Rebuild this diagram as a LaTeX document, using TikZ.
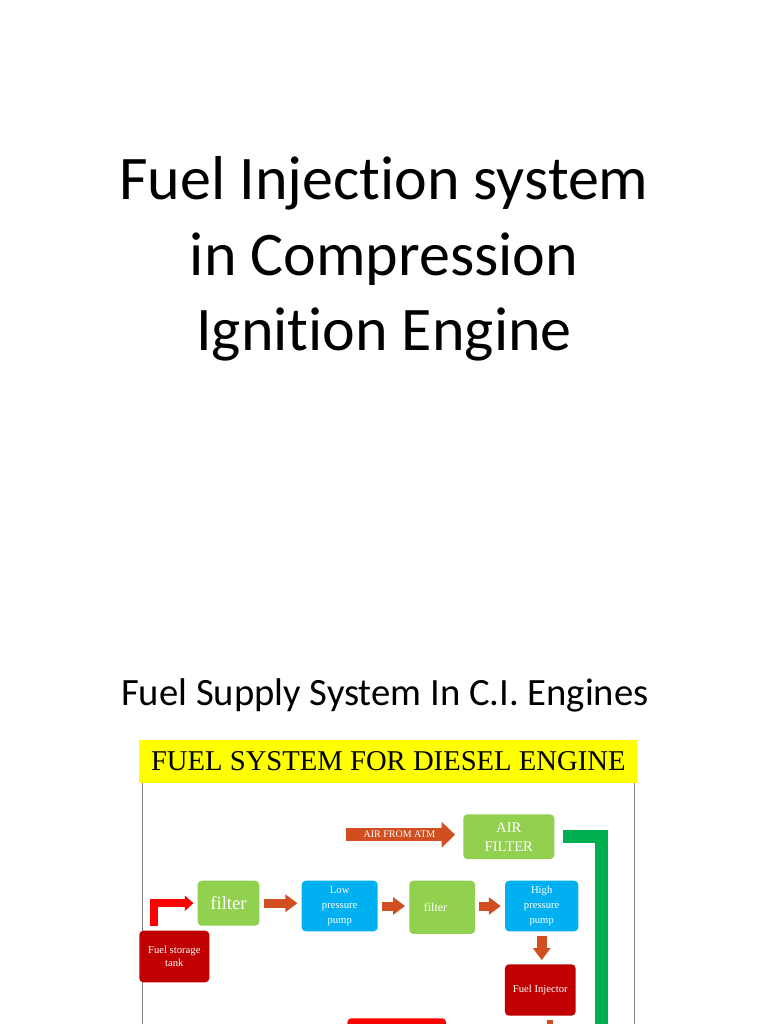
\documentclass[tikz,border=0pt]{standalone}
\usepackage{fontspec}
\setmainfont[Ligatures=NoCommon]{Carlito}
\newfontfamily\boxfont{Liberation Serif}
\usetikzlibrary{arrows.meta}
\definecolor{bannery}{RGB}{255,255,0}
\definecolor{leafgreen}{RGB}{146,208,80}
\definecolor{skyblue}{RGB}{0,176,240}
\definecolor{darkred}{RGB}{192,0,0}
\definecolor{rustarrow}{RGB}{209,78,32}
\definecolor{pipegreen}{RGB}{0,176,80}
\definecolor{framegray}{RGB}{128,128,128}

\begin{document}
\begin{tikzpicture}[x=0.75pt,y=-0.75pt
	,box/.style={rectangle,rounded corners=3pt,text=white,align=center,inner sep=0pt}
	,gbox/.style={box,fill=leafgreen}
	,bbox/.style={box,fill=skyblue}
	,rbox/.style={box,fill=darkred}
	,flow/.style={draw=rustarrow,line width=6.75pt,
	  -{Triangle[length=9pt,width=12.75pt]},shorten >=3pt,shorten <=3pt}
	,frame/.style={draw=framegray,line width=1.1pt}
	]
  \tikzstyle{small}=[font=\boxfont\fontsize{8}{11.5}\selectfont]
  \clip (0,0) rectangle (768,1024);
  \fill[white] (0,0) rectangle (768,1024);

  % headings
  \node[font=\fontsize{46.5}{56.6}\selectfont,align=center] (title) at (384,259)
    {Fuel Injection system\\in Compression\\Ignition Engine};
  \node[font=\fontsize{29}{36}\selectfont,anchor=base] (subtitle) at (385,705)
    {Fuel Supply System In C.I. Engines};

  % banner
  \node[fill=bannery,minimum width=373.5pt,minimum height=32pt,
    font=\boxfont\fontsize{21.5}{21.5}\selectfont] (banner) at (388.3,761.3)
    {FUEL SYSTEM FOR DIESEL ENGINE};
  \draw[frame] ([xshift=2.5pt]banner.south west) -- ++(0,260);
  \draw[frame] ([xshift=-2.5pt]banner.south east) -- ++(0,260);

  % air line
  \node[gbox,minimum width=68.25pt,minimum height=33.5pt,
    font=\boxfont\fontsize{11}{14.25}\selectfont] (airf) at (508.8,836.7) {AIR\\FILTER};
  % fuel line
  \node[rbox,small,minimum width=52.5pt,minimum height=38.7pt,
    font=\boxfont\fontsize{8}{10}\selectfont] (tank) at (174.3,956.5) {Fuel storage\\tank};
  \node[gbox,minimum width=46.2pt,minimum height=33.75pt,
    font=\boxfont\fontsize{14}{14}\selectfont] (filt1) at (228.5,903.2) {filter};
  \node[bbox,small,minimum width=57pt,minimum height=38pt] (lpp) at (339.7,906)
    {Low\\pressure\\pump};
  \node[gbox,small,minimum width=49.3pt,minimum height=40pt,
    font=\boxfont\fontsize{9}{9}\selectfont] (filt2) at (442.2,907.3) {filter\hspace*{10pt}};
  \node[bbox,small,minimum width=55pt,minimum height=38pt] (hpp) at (541.7,906)
    {High\\pressure\\pump};
  \node[rbox,small,minimum width=53pt,minimum height=38.5pt] (inj) at (540.3,990)
    {Fuel Injector};
  \node[box,fill=red,minimum width=74pt,minimum height=30pt] (lower) at (396.7,1038.3) {};

  % loose ends
  \coordinate (atmin) at (346,834.7);
  \coordinate (pipeend) at (601.2,1040);
  \coordinate (injout) at (550,1060);

  % connectors
  \draw[flow,line width=9.5pt,-{Triangle[length=10pt,width=18.75pt]},
    shorten <=0pt,shorten >=6pt] (atmin) -- (atmin -| airf.west)
    node[midway,xshift=-3.75pt,text=white,font=\boxfont\fontsize{7.5}{7.5}\selectfont]
    {AIR FROM ATM};
  \draw[pipegreen,line width=9.75pt] ([xshift=6.3pt]airf.east) -| (pipeend);
  \draw[red,line width=5.75pt,-{Triangle[length=6.5pt,width=11.25pt]},
    shorten <=3.5pt,shorten >=3pt] ([xshift=11.25pt]tank.north west) |- (filt1.west);
  \draw[flow] (filt1.east) -- (filt1.east -| lpp.west);
  \draw[flow] (lpp.east) -- (lpp.east -| filt2.west);
  \draw[flow] (hpp.west -| filt2.east) -- (hpp.west);
  \draw[flow,line width=7.5pt] (hpp.south) -- (hpp.south |- inj.north);
  \draw[flow,line width=5pt] (inj.south -| injout) -- (injout);
\end{tikzpicture}
\end{document}
